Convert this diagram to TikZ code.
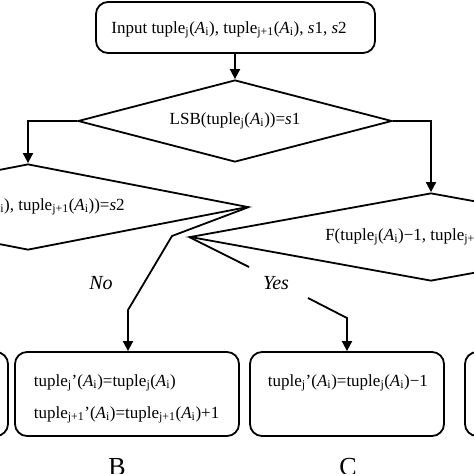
\documentclass[tikz,border=0pt]{standalone}
\usepackage{fontspec}
\setmainfont{Liberation Serif}
\usetikzlibrary{shapes.geometric,arrows.meta}
\newcommand{\tj}{tuple\textsubscript{j}}
\newcommand{\tjj}{tuple\textsubscript{j+1}}
\newcommand{\Ai}{(\textit{A}\textsubscript{i})}
\tikzset{
  txt/.style={font=\fontsize{17}{20}\selectfont, inner sep=0pt},
  box/.style={draw, rounded corners=12pt, inner sep=0pt},
  dia/.style={draw, diamond, inner sep=0pt, font=\fontsize{17}{20}\selectfont},
  lab/.style={font=\fontsize{20}{24}\selectfont\itshape, inner sep=0pt},
  big/.style={font=\fontsize{26}{30}\selectfont, inner sep=0pt},
}
\begin{document}
\begin{tikzpicture}[x=1pt,y=-1pt,line width=1.8pt,>={Triangle[length=10pt,width=10pt]}]
\useasboundingbox (0,0) rectangle (474,474);
\clip (0,0) rectangle (474,474);
% top box
\node[box, minimum width=279pt, minimum height=51pt] (in) at (235.5,27.5) {};
\node[txt, anchor=base] (intext) at (229,33) {Input \tj\Ai, \tjj\Ai, \textit{s}1, \textit{s}2};
% diamonds
\node[dia, minimum width=314pt, minimum height=82pt, shape aspect=3.8] (d1) at (235,121) {LSB(\tj\Ai)=\textit{s}1};
\node[dia, minimum width=440pt, minimum height=86pt, shape aspect=5.1] (d2) at (28,207) {F(\tj\Ai, \tjj\Ai)=\textit{s}2};
\node[dia, minimum width=482pt, minimum height=88pt, shape aspect=5.5] (d3) at (431,237) {F(\tj\Ai−1, \tjj\Ai)=\textit{s}2};
% result boxes
\node[box, minimum width=224pt, minimum height=84pt] (A) at (-104,394) {};
\node[box, minimum width=224pt, minimum height=84pt] (B) at (127,394) {};
\node[box, minimum width=194pt, minimum height=84pt] (C) at (347,394) {};
\node[box, minimum width=194pt, minimum height=84pt] (D) at (562,394) {};
\node[txt, anchor=base west] (b1) at (33,386) {\tj’\Ai=\tj\Ai};
\node[txt, anchor=base west] (b2) at (33,418) {\tjj’\Ai=\tjj\Ai+1};
\node[txt, anchor=base west] (c1) at (267,386) {\tj’\Ai=\tj\Ai−1};
\node[big, anchor=base] (lB) at (117,475) {B};
\node[big, anchor=base] (lC) at (348,475) {C};
% connectors
\coordinate (k1) at (172,236);
\coordinate (k2) at (128,310);
\coordinate (y1) at (249,267);
\coordinate (y2) at (308,298);
\coordinate (y3) at (347,318);
\draw[->] (in.south -| d1.north) -- (d1.north);
\draw[->] (d1.west) -| (d2.north);
\draw[->] (d1.east) -| (d3.north);
\draw[->, line join=miter] (d2.east) -- (k1) -- (k2) -- (k2 |- B.north);
\draw (d3.west) -- (y1);
\draw[->] (y2) -- (y3) -- (C.north);
\node[lab] (no) at (101,283) {No};
\node[lab] (yes) at (276,283) {Yes};
\end{tikzpicture}
\end{document}
